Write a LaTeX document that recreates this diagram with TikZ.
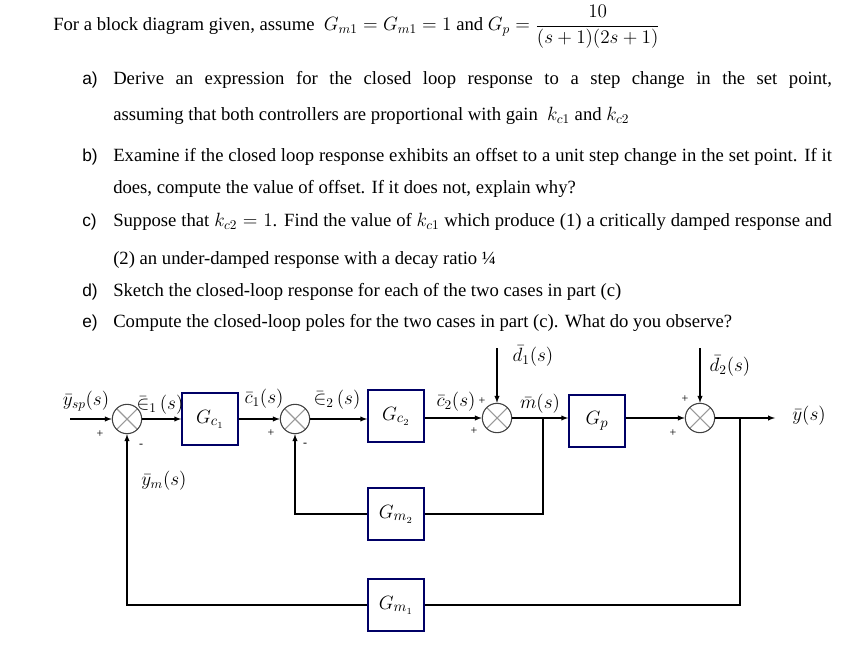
\documentclass[tikz,border=0pt]{standalone}
\usepackage{amsmath}
\usepackage{fontspec}
\setmainfont{Liberation Serif}
\newfontfamily\lab{Liberation Sans}
\newcommand{\fl}[1]{\makebox[539pt][s]{#1}}
\begin{document}
\begin{tikzpicture}[x=0.75pt,y=-0.75pt,
  txt/.style={anchor=west,inner sep=0,font=\fontsize{14}{16}\selectfont},
  itm/.style={anchor=west,inner sep=0,font=\lab\fontsize{13}{15}\selectfont},
  blk/.style={draw=blue!40!black,line width=1.2pt,minimum width=42pt,minimum height=39pt,inner sep=0,font=\fontsize{15}{17}\selectfont},
  sm/.style={circle,draw=black!75,thick,minimum size=22pt,inner sep=0,path picture={\draw[black!40] (path picture bounding box.north west)--(path picture bounding box.south east) (path picture bounding box.north east)--(path picture bounding box.south west);}},
  ar/.style={-latex,thick},
  ln/.style={thick},
  lb/.style={inner sep=0,font=\fontsize{14.5}{17}\selectfont},
  pm/.style={inner sep=0,font=\small}]
\useasboundingbox (0,0) rectangle (863,659);
% text
\node[txt] (t0) at (53,27) {For a block diagram given, assume\ \ $G_{m1}=G_{m1}=1$ and $G_p=\dfrac{10}{(s+1)(2s+1)}$};
\node[itm] (la) at (82,80) {a)};
\node[txt] (ta) at (113,80) {\fl{Derive an expression for the closed loop response to a step change in the set point,}};
\node[txt] (ta2) at (113,116) {assuming that both controllers are proportional with gain \ $k_{c1}$ and $k_{c2}$};
\node[itm] (lb) at (82,157) {b)};
\node[txt] (tb) at (113,157) {\fl{Examine if the closed loop response exhibits an offset to a unit step change in the set point. If it}};
\node[txt] (tb2) at (113,189) {does, compute the value of offset. If it does not, explain why?};
\node[itm] (lc) at (82,222) {c)};
\node[txt] (tc) at (113,222) {\fl{Suppose that $k_{c2}=1$. Find the value of $k_{c1}$ which produce (1) a critically damped response and}};
\node[txt] (tc2) at (113,260) {(2) an under-damped response with a decay ratio \textonequarter};
\node[itm] (ld) at (82,292) {d)};
\node[txt] (td) at (113,292) {Sketch the closed-loop response for each of the two cases in part (c)};
\node[itm] (le) at (82,323) {e)};
\node[txt] (te) at (113,323) {Compute the closed-loop poles for the two cases in part (c). What do you observe?};
% diagram
\node[sm] (s1) at (127,419) {};
\node[blk] (gc1) at (210,419) {$G_{c_1}$};
\node[sm] (s2) at (295,419) {};
\node[blk] (gc2) at (396,416) {$G_{c_2}$};
\node[sm] (s3) at (497,418) {};
\node[blk] (gp) at (597,421) {$G_p$};
\node[sm] (s4) at (700,418) {};
\node[blk] (gm2) at (396,514) {$G_{m_2}$};
\node[blk] (gm1) at (396,605) {$G_{m_1}$};
\coordinate (in) at (70,419);
\coordinate (out) at (775,418);
\coordinate (d1) at (497,348);
\coordinate (d2) at (700,348);
\coordinate (bm) at (543,418);
\coordinate (by) at (740,418);
\draw[ar] (in) -- (s1);
\draw[ar] (s1) -- (gc1);
\draw[ar] (gc1) -- (s2);
\draw[ar] (s2) -- (gc2.west|-s2);
\draw[ar] (gc2.east|-s3) -- (s3);
\draw[ar] (s3) -- (gp.west|-s3);
\draw[ar] (gp.east|-s4) -- (s4);
\draw[ar] (s4) -- (out);
\draw[ar] (d1) -- (s3);
\draw[ar] (d2) -- (s4);
\draw[ln] (bm) |- (gm2.east);
\draw[ar] (gm2.west) -| (s2);
\draw[ln] (by) |- (gm1.east);
\draw[ar] (gm1.west) -| (s1);
% labels
\node[lb] (l1) at (86,401) {$\bar{y}_{sp}(s)$};
\node[lb] (l2) at (160,405) {$\bar{\in}_1\,(s)$};
\node[lb] (l3) at (264,399) {$\bar{c}_1(s)$};
\node[lb] (l4) at (337,400) {$\bar{\in}_2\,(s)$};
\node[lb] (l5) at (456,402) {$\bar{c}_2(s)$};
\node[lb] (l6) at (540,404) {$\bar{m}(s)$};
\node[lb] (l7) at (533,356) {$\bar{d}_1(s)$};
\node[lb] (l8) at (730,366) {$\bar{d}_2(s)$};
\node[lb] (l9) at (809,416) {$\bar{y}(s)$};
\node[lb] (l10) at (164,481) {$\bar{y}_m(s)$};
\node[pm] at (100,434) {+};
\node[pm] at (141,446) {-};
\node[pm] at (271,433) {+};
\node[pm] at (305,445) {-};
\node[pm] at (482,401) {+};
\node[pm] at (474,431) {+};
\node[pm] at (685,399) {+};
\node[pm] at (673,433) {+};
\end{tikzpicture}
\end{document}
